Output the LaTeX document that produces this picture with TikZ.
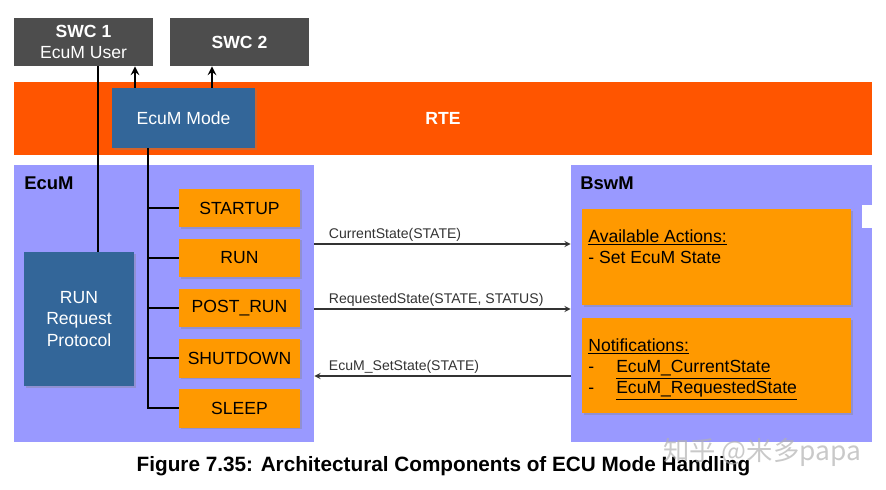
\documentclass[tikz,border=0pt]{standalone}
\usepackage{fontspec}
\setmainfont{Liberation Sans}
\newfontfamily\cjk{Noto Sans CJK SC}
\usetikzlibrary{shadows}
\definecolor{swcgray}{HTML}{4D4D4D}
\definecolor{rtered}{HTML}{FF5500}
\definecolor{modeblue}{HTML}{336699}
\definecolor{panelblue}{HTML}{9999FF}
\definecolor{stateorange}{HTML}{FF9900}
\begin{document}
\begin{tikzpicture}[x=0.02cm,y=-0.02cm,>=stealth,
	box/.style={inner sep=0pt,font=\fontsize{10}{12}\selectfont},
	swc/.style={box,fill=swcgray,text=white,minimum width=2.78cm,minimum height=0.96cm,align=center},
	shade box/.style={drop shadow={shadow xshift=1pt,shadow yshift=-1pt,opacity=0.35}},
	blue box/.style={box,fill=modeblue,text=white,align=center,shade box},
	state/.style={box,fill=stateorange,minimum width=2.42cm,minimum height=0.78cm,shade box},
	panelbox/.style={fill=panelblue,minimum width=6cm,minimum height=5.54cm,inner sep=0pt},
	title/.style={inner sep=0pt,anchor=west,font=\fontsize{10.5}{12}\selectfont\bfseries},
	wire/.style={line width=1.6pt},
	msg/.style={->,line width=0.6pt,black!80},
	msglabel/.style={font=\fontsize{8}{10}\selectfont,above right,inner sep=1pt,xshift=7pt}]
	\useasboundingbox (0,0) rectangle (886,490);
	% panels and RTE
	\node[panelbox] (ecum) at (164,303.5) {};
	\node[panelbox,minimum width=6.02cm] (bswm) at (721.5,303.5) {};
	\fill[white] (862,205) rectangle (873,228);
	\node[title] (ecumlbl) at (24,183) {EcuM};
	\node[title] (bswmlbl) at (580,183) {BswM};
	\node[box,fill=rtered,text=white,minimum width=17.16cm,minimum height=1.46cm,font=\fontsize{10}{12}\selectfont\bfseries] (rte) at (443,118.5) {RTE};
	\node[swc] (swc1) at (83.5,42) {\textbf{SWC 1}\\EcuM User};
	\node[swc,font=\fontsize{10}{12}\selectfont\bfseries] (swc2) at (239.5,42) {SWC 2};
	\node[blue box,minimum width=2.86cm,minimum height=1.2cm] (mode) at (183.5,118) {EcuM Mode};
	\node[blue box,minimum width=2.2cm,minimum height=2.68cm,font=\fontsize{10}{12.5}\selectfont] (proto) at (79,319) {RUN\\Request\\Protocol};
	% states
	\foreach \n/\t [count=\i from 0] in {startup/STARTUP,run/RUN,postrun/POST\_RUN,shutdown/SHUTDOWN,sleep/SLEEP}
		\node[state] (\n) at (239.5,{208+50*\i}) {\t};
	\coordinate (trunk) at (148,0);
	\coordinate (user) at (98,0);
	\coordinate (p1) at (135,0);
	\coordinate (p2) at (212,0);
	\draw[wire] (mode.south -| trunk) |- (sleep.west);
	\foreach \n in {startup,run,postrun,shutdown}\draw[wire] (trunk |- \n.west) -- (\n.west);
	\draw[wire] (swc1.south -| user) -- (proto.north -| user);
	\draw[->,line width=1.2pt] (mode.north -| p1) -- (swc1.south -| p1);
	\draw[->,line width=1.2pt] (mode.north -| p2) -- (swc2.south -| p2);
	% BswM boxes
	\node[state,minimum width=5.38cm,minimum height=1.92cm] (avail) at (716.5,257) {};
	\node[box,anchor=north west,align=left] (availtxt) at (588,229) {\underline{Available Actions:}\\- Set EcuM State};
	\node[state,minimum width=5.38cm,minimum height=1.9cm] (notif) at (716.5,365.5) {};
	\node[box,anchor=north west,align=left] (notiftxt) at (588,338) {\underline{Notifications:}\\\makebox[15.9pt][l]{-}\underline{EcuM\_CurrentState}\\\makebox[15.9pt][l]{-}\underline{EcuM\_RequestedState}};
	% messages
	\coordinate (m1) at (0,244);
	\coordinate (m2) at (0,309);
	\coordinate (m3) at (0,376);
	\draw[msg] (ecum.east |- m1) -- (bswm.west |- m1) node[msglabel,pos=0] {CurrentState(STATE)};
	\draw[msg] (ecum.east |- m2) -- (bswm.west |- m2) node[msglabel,pos=0] {RequestedState(STATE,\ STATUS)};
	\draw[msg] (bswm.west |- m3) -- (ecum.east |- m3) node[msglabel,pos=1] {EcuM\_SetState(STATE)};
	\node[inner sep=0pt,font=\fontsize{11.8}{14}\selectfont\bfseries] (caption) at (443.5,466) {Figure 7.35: Architectural Components of ECU Mode Handling};
	\node[inner sep=0pt,font=\cjk\fontsize{15}{18}\selectfont,text=gray!60,opacity=0.7] (mark) at (762,452) {知乎 @米多papa};
\end{tikzpicture}
\end{document}
